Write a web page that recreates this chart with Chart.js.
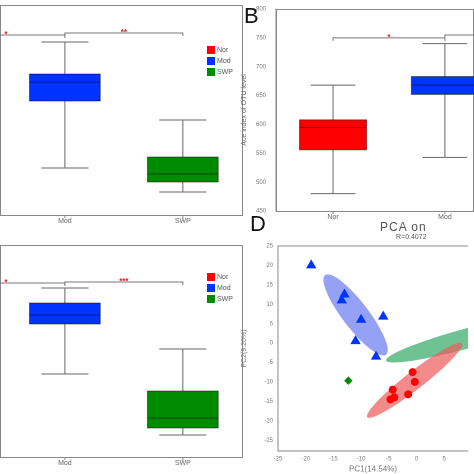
<!DOCTYPE html>
<html><head><meta charset="utf-8">
<script src="https://cdn.jsdelivr.net/npm/chart.js@4"></script>
<style>
body{margin:0;width:474px;height:474px;position:relative;overflow:hidden;background:#fff;font-family:Arial,"Liberation Sans",sans-serif}
canvas{position:absolute}
.t{position:absolute;white-space:nowrap;color:#555}
</style></head><body>
<canvas id="cA" style="left:0;top:0;width:250px;height:230px"></canvas>
<canvas id="cC" style="left:0;top:240px;width:250px;height:234px"></canvas>
<canvas id="cB" style="left:240px;top:0;width:234px;height:240px"></canvas>
<canvas id="cD" style="left:240px;top:240px;width:234px;height:234px"></canvas>
<div class="t" style="left:244px;top:3px;font-size:22px;color:#111">B</div>
<div class="t" style="left:250px;top:211px;font-size:22px;color:#111">D</div>
<div class="t" style="left:380px;top:220px;font-size:12px;letter-spacing:1px">PCA on</div>
<div class="t" style="left:396px;top:233px;font-size:7px">R=0.4072</div>
<script>
// ---- data ----
const groups = ['Nor','Mod','SWP'];
// panel A (relative units, no visible axis)
const boxA = [[47,114,133,141,173],[23,33,41,58,95]];  // Mod, SWP: min,q1,med,q3,max
const sigA = ['*','**'];
// panel C
const boxC = [[83,133,142,154,169],[22,29,39,66,108]];
const sigC = ['*','***'];
// panel B Ace index
const boxB = [[480,556,595,608,668],[543,652,668,683,740]]; // Nor, Mod
const ticksB = [450,500,550,600,650,700,750,800];
// panel D PCA
const triMod = [[-19,20],[-13,12.5],[-13.5,11],[-10,6],[-6,6.8],[-11,0.5],[-7.3,-3.5]];
const cirNor = [[-0.7,-7.5],[-0.3,-10],[-4.3,-12],[-4,-14],[-4.7,-14.5],[-1.5,-13.2]];
const diaSWP = [[-12.3,-9.7]];
const ellMod = [[-16.5,17.5],[-5.5,-3]];
const ellSWP = [[-5.5,-4.5],[24,7]];
const ellNor = [[-8.9,-19.1],[8.2,-0.1]];
const ticksD = [-25,-20,-15,-10,-5,0,5,10,15,20,25];

const colors = {Nor:'#ff0000',Mod:'#0033ff',SWP:'#008a00'};
const grey='#888';

function boxPlugin(boxes, xs, cols, sig, legend){
  return {id:'box', afterDatasetsDraw(ch){
    const {ctx,chartArea:a,scales:{x,y}}=ch;
    ctx.save();
    ctx.strokeStyle=grey;ctx.lineWidth=1;
    ctx.strokeRect(a.left+0.5,a.top+0.5,a.right-a.left-1,a.bottom-a.top);
    boxes.forEach((b,i)=>{
      const cx=x.getPixelForValue(xs[i]);
      const hw=x.getPixelForValue(xs[i]+0.3)-cx, ww=x.getPixelForValue(xs[i]+0.2)-cx;
      const p=b.map(v=>y.getPixelForValue(v));
      ctx.strokeStyle='#666';
      ctx.beginPath();ctx.moveTo(cx,p[0]);ctx.lineTo(cx,p[4]);
      ctx.moveTo(cx-ww,p[0]);ctx.lineTo(cx+ww,p[0]);ctx.moveTo(cx-ww,p[4]);ctx.lineTo(cx+ww,p[4]);ctx.stroke();
      ctx.fillStyle=cols[i];ctx.fillRect(cx-hw,p[3],2*hw,p[1]-p[3]);
      ctx.strokeStyle='rgba(0,0,0,0.45)';ctx.strokeRect(cx-hw,p[3],2*hw,p[1]-p[3]);
      ctx.beginPath();ctx.moveTo(cx-hw,p[2]);ctx.lineTo(cx+hw,p[2]);ctx.stroke();
      ctx.strokeStyle=grey;ctx.beginPath();ctx.moveTo(cx,a.bottom);ctx.lineTo(cx,a.bottom+3);ctx.stroke();
    });
    if(sig){
      const yb=sig.y; ctx.strokeStyle='#777';
      sig.pairs.forEach((s,k)=>{
        const x1=x.getPixelForValue(s[0]),x2=x.getPixelForValue(s[1]),yy=y.getPixelForValue(yb[k]);
        ctx.beginPath();ctx.moveTo(x1,yy+3);ctx.lineTo(x1,yy);ctx.lineTo(x2,yy);ctx.lineTo(x2,yy+3);ctx.stroke();
        ctx.fillStyle='#e02020';ctx.font='bold 8px Arial';ctx.textAlign='center';
        ctx.fillText(s[2],(x1+x2)/2,yy+2);
      });
    }
    if(legend){
      ctx.font='7px Arial';ctx.textAlign='left';ctx.textBaseline='middle';
      groups.forEach((g,i)=>{
        const lx=a.right-36, ly=a.top+legend+i*11;
        ctx.fillStyle=colors[g];ctx.fillRect(lx,ly-4,8,8);
        ctx.fillStyle='#555';ctx.fillText(g,lx+10,ly);
      });
    }
    ctx.restore();
  }};
}
function medPts(boxes,xs){return boxes.map((b,i)=>({x:xs[i],y:b[2]}));}
function boxChart(id, boxes, xs, cols, xmin, xmax, ymin, ymax, sig, legend, pad, yw, xh, yopts){
  return new Chart(document.getElementById(id),{
    type:'scatter',
    data:{datasets:[{data:medPts(boxes,xs),pointRadius:0}]},
    options:{responsive:false,animation:false,devicePixelRatio:2,
      layout:{padding:pad},
      plugins:{legend:{display:false},tooltip:{enabled:false}},
      scales:{
        x:{type:'linear',min:xmin,max:xmax,grid:{display:false,tickLength:0},border:{display:false},
          afterFit(s){s.height=xh;},
          afterBuildTicks(s){s.ticks=xs.map(v=>({value:v}));},
          ticks:{autoSkip:false,maxRotation:0,padding:2,font:{size:7},color:'#666',callback:v=>groups[v]}},
        y:Object.assign({min:ymin,max:ymax,display:!!yopts,grid:{display:false},afterFit(s){s.width=yw;}},yopts||{})
      }}, plugins:[boxPlugin(boxes,xs,cols,sig,legend)]});
}
function size(id,w,h){const c=document.getElementById(id);c.width=w;c.height=h;}
size('cA',250,230);size('cC',250,234);size('cB',234,240);size('cD',234,234);

boxChart('cA',boxA,[1,2],[colors.Mod,colors.SWP],0.45,2.51,0,210,
  {y:[180,182],pairs:[[0,1,sigA[0]],[1,2,sigA[1]]]},45,{top:5,right:7,left:0,bottom:0},0,15);
boxChart('cC',boxC,[1,2],[colors.Mod,colors.SWP],0.45,2.51,0,212,
  {y:[174,175],pairs:[[0,1,sigC[0]],[1,2,sigC[1]]]},32,{top:5,right:7,left:0,bottom:0},0,17);
boxChart('cB',boxB,[0,1],[colors.Nor,colors.Mod],-0.51,1.26,450,800,
  {y:[750,755],pairs:[[0,1,'*'],[1,2,'']]},0,{top:9,right:0,left:0,bottom:0},36,29,
  {display:true,border:{display:true,color:grey},
   afterBuildTicks(s){s.ticks=ticksB.map(v=>({value:v}));},
   grid:{display:false,drawOnChartArea:false},
   title:{display:true,text:'Ace index of OTU level',font:{size:7},color:'#666',padding:0},
   ticks:{font:{size:6},color:'#777',padding:2}});

// panel D
function ellipsePlugin(){
  const ells=[[ellMod,'rgba(90,110,240,0.65)',13],[ellSWP,'rgba(50,170,100,0.7)',10],[ellNor,'rgba(240,90,90,0.7)',9]];
  return {id:'ell',beforeDatasetsDraw(ch){
    const {ctx,chartArea:a,scales:{x,y}}=ch;ctx.save();
    ctx.beginPath();ctx.rect(a.left,a.top,a.right-a.left,a.bottom-a.top);ctx.clip();
    ells.forEach(([e,c,r])=>{
      const x1=x.getPixelForValue(e[0][0]),y1=y.getPixelForValue(e[0][1]);
      const x2=x.getPixelForValue(e[1][0]),y2=y.getPixelForValue(e[1][1]);
      ctx.fillStyle=c;ctx.beginPath();
      ctx.ellipse((x1+x2)/2,(y1+y2)/2,Math.hypot(x2-x1,y2-y1)/2,r,Math.atan2(y2-y1,x2-x1),0,Math.PI*2);
      ctx.fill();
    });
    ctx.restore();
  },afterDraw(ch){const {ctx,chartArea:a}=ch;ctx.save();ctx.strokeStyle=grey;
    ctx.beginPath();ctx.moveTo(a.left,a.top);ctx.lineTo(a.right,a.top);ctx.stroke();ctx.restore();}};
}
const toPts=arr=>arr.map(p=>({x:p[0],y:p[1]}));
new Chart(document.getElementById('cD'),{
  type:'scatter',
  data:{datasets:[
    {data:toPts(triMod),pointStyle:'triangle',pointRadius:5,backgroundColor:colors.Mod,borderColor:colors.Mod},
    {data:toPts(cirNor),pointStyle:'circle',pointRadius:3.5,backgroundColor:colors.Nor,borderColor:colors.Nor},
    {data:toPts(diaSWP),pointStyle:'rectRot',pointRadius:3.5,backgroundColor:colors.SWP,borderColor:colors.SWP}]},
  options:{responsive:false,animation:false,devicePixelRatio:2,
    layout:{padding:{top:5,right:0,left:0,bottom:0}},
    plugins:{legend:{display:false},tooltip:{enabled:false}},
    scales:{
      x:{type:'linear',min:-25,max:9.3,grid:{display:false,tickLength:3},border:{color:grey},
        afterFit(s){s.height=23;},
        afterBuildTicks(s){s.ticks=ticksD.filter(v=>v<=9.3).map(v=>({value:v}));},
        title:{display:true,text:'PC1(14.54%)',font:{size:8},color:'#777',padding:0},
        ticks:{font:{size:6},color:'#777',padding:1,maxRotation:0}},
      y:{min:-27.8,max:25,grid:{display:false,tickLength:3},border:{color:grey},
        afterFit(s){s.width=38;},
        afterBuildTicks(s){s.ticks=ticksD.map(v=>({value:v}));},
        title:{display:true,text:'PC2(9.26%)',font:{size:7},color:'#777',padding:0},
        ticks:{font:{size:6},color:'#777',padding:2}}
    }},
  plugins:[ellipsePlugin()]});
</script></body></html>
